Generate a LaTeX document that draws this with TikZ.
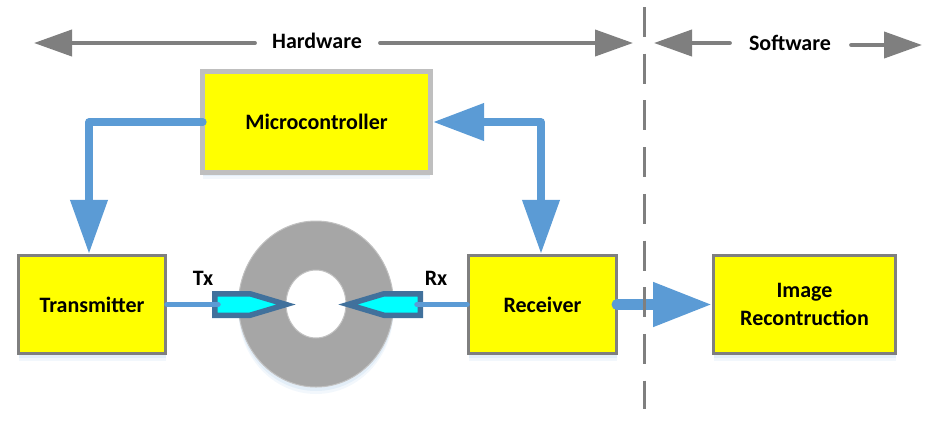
\documentclass[tikz,border=0pt]{standalone}
\usepackage{fontspec}
\setmainfont{Carlito}
\usepackage{xcolor}
\usetikzlibrary{arrows.meta,shapes,positioning,shadows}
\definecolor{boxyellow}{HTML}{FFFF00}
\definecolor{linkblue}{HTML}{5B9BD5}
\definecolor{probeblue}{HTML}{41719C}
\definecolor{probecyan}{HTML}{00FFFF}
\definecolor{rulegray}{HTML}{7F7F7F}
\definecolor{ringgray}{HTML}{A6A6A6}
\tikzset{softshadow/.style={drop shadow={shadow xshift=0pt,shadow yshift=-4pt,fill=linkblue,opacity=0.10},
		drop shadow={shadow xshift=0pt,shadow yshift=-7pt,fill=linkblue,opacity=0.08}},
	block/.style={draw=rulegray, fill=boxyellow, rectangle, line width=3pt, align=center,
		font=\fontsize{22}{28}\selectfont\bfseries, minimum height=98.5pt, inner sep=0pt, softshadow},
	caption/.style={font=\fontsize{22}{26}\selectfont\bfseries, inner sep=0pt},
	link/.style={draw=linkblue, line width=7.5pt, line cap=round, line join=round,
		-{Triangle[length=54pt,width=36pt]}},
	bothlink/.style={link, {Triangle[length=51pt,width=36pt]}-{Triangle[length=54pt,width=36pt]}},
	wire/.style={draw=linkblue, line width=5.5pt, line cap=round},
	span/.style={draw=rulegray, line width=4pt, line cap=round, -{Triangle[length=38pt,width=26pt]}},
	probe/.style={draw=probeblue, fill=probecyan, line width=5.5pt, miter limit=20}}

\begin{document}
\begin{tikzpicture}[x=1pt,y=-1pt,auto,node distance=100pt]
		\useasboundingbox (0,0) rectangle (927,424);
		\node [ellipse, draw=ringgray!70, fill=ringgray, line width=1pt, inner sep=0pt, minimum width=155pt, minimum height=166pt, softshadow](ring) at (316,304){};
		\node [ellipse, draw=ringgray!70, fill=white, line width=1pt, inner sep=0pt, minimum width=60pt, minimum height=68pt](hole) at (316,304){};
		
		\node [block, minimum width=147pt](transmitter) at (92,304.5){Transmitter};
		\node [block, minimum width=148pt, right of=transmitter, node distance=450.5pt](receiver){Receiver};
		\node [block, minimum width=182pt, right of=receiver, node distance=262pt](image){Image\\Recontruction};
		\node [block, draw=gray!50, line width=5.5pt, minimum width=227.8pt, minimum height=100.6pt](micro) at (316.5,122){Microcontroller};
		
		\node [caption](hardware) at (317,41){Hardware};
		\node [caption](software) at (790,43){Software};
		\node [caption](tx) at (203,278){Tx};
		\node [caption](rx) at (436,278){Rx};
		
		\coordinate (hwleft) at (34,43);
		\coordinate (hwright) at (633,43);
		\coordinate (swleft) at (654,43);
		\coordinate (swright) at (922,45);
		\coordinate (mcleft) at (89,122);
		\coordinate (mcright) at (541,122);
		\coordinate (txback) at (218,304.5);
		\coordinate (rxback) at (417,304.5);
		\coordinate (dashtop) at (644,7);
		\coordinate (dashend) at (644,409);
		
		\draw [span] ([xshift=-17pt,yshift=-2pt]hardware.west) -- (hwleft);
		\draw [span] ([xshift=18pt,yshift=-2pt]hardware.east) -- (hwright);
		\draw [span] ([xshift=-19pt]software.west) -- (swleft);
		\draw [span] ([xshift=20pt,yshift=-2pt]software.east) -- (swright);
		
		\draw [probe] (214.75,293.75) -- (250,293.75) -- (286,304.5) -- (250,315.25) -- (214.75,315.25) -- cycle;
		\draw [probe] (420.25,293.75) -- (384,293.75) -- (348,304.5) -- (384,315.25) -- (420.25,315.25) -- cycle;
		\draw [wire] (transmitter.east) -- (txback);
		\draw [wire] (receiver.west) -- (rxback);
		
		\draw [link] ([xshift=3pt]micro.west) -- (mcleft) -- (mcleft |- transmitter.north);
		\draw [bothlink] (micro.east) -- (mcright) -- (mcright |- receiver.north);
		\draw [link, line width=11pt, -{Triangle[length=59pt,width=42pt]}] ([xshift=-1pt]receiver.east) -- (image.west);
		
		\draw [draw=rulegray, line width=3pt, dash pattern=on 30pt off 16.7pt] (dashtop) -- (dashend);
	\end{tikzpicture}
\end{document}
